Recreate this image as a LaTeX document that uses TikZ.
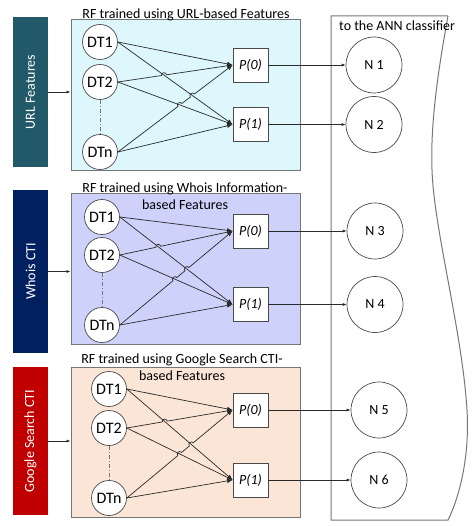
\documentclass[tikz,border=0pt]{standalone}
\usepackage{fontspec}
\usepackage{graphicx}
\setmainfont{Carlito}
\usetikzlibrary{arrows.meta,calc,intersections}

\definecolor{urlc}{HTML}{215968}
\definecolor{whoisc}{HTML}{002060}
\definecolor{googc}{HTML}{C00000}
\definecolor{pan1}{HTML}{DDF7FC}
\definecolor{pan2}{HTML}{CED2FA}
\definecolor{pan3}{HTML}{FBE5D6}
\definecolor{bord}{HTML}{767676}
\definecolor{lin}{HTML}{2A2A2A}
\definecolor{shp}{HTML}{4A4A4A}

\newcommand{\hopr}{2.5pt}

\tikzset{
  srcbox/.style={minimum width=35pt, minimum height=#1, inner sep=0pt, text=white,
    font=\fontsize{14}{17}\selectfont},
  panel/.style={draw=bord, line width=1pt, minimum width=229pt, minimum height=#1, inner sep=0pt},
  ptitle/.style={align=center, inner sep=0pt, font=\fontsize{14}{17}\selectfont},
  dt/.style={circle, draw=shp, line width=0.7pt, fill=white, minimum size=35pt, inner sep=0pt,
    font=\fontsize{16}{18}\selectfont},
  pbox/.style={rectangle, draw=shp, line width=0.7pt, fill=white, minimum width=35pt,
    minimum height=34pt, inner sep=0pt, font=\fontsize{14}{17}\selectfont\itshape},
  nc/.style={circle, draw=shp, line width=0.7pt, fill=white, minimum size=56pt, inner sep=0pt,
    font=\fontsize{14}{17}\selectfont},
  wire/.style={draw=lin, line width=0.7pt, -{Latex[length=5.5pt,width=4.5pt]}},
  feed/.style={draw=lin, line width=0.7pt, -{Latex[length=4pt,width=3pt]}},
  dashdot/.style={draw=bord, line width=0.7pt, dash pattern=on 4pt off 2pt on 1pt off 2pt},
  annbox/.style={draw=bord, line width=1pt},
}

\newcommand{\rfwires}[1]{%
  \path[name path=pa#1] (A#1.east) -- (Q#1.west);
  \path[name path=pb#1] (B#1.east) -- (Q#1.west);
  \path[name path=pc#1] (B#1.east) -- (P#1.west);
  \path[name path=pd#1] (C#1.east) -- (P#1.west);
  \path[name intersections={of=pc#1 and pa#1, by={xa#1}}];
  \path[name intersections={of=pd#1 and pb#1, by={xb#1}}];
  \path[name intersections={of=pd#1 and pa#1, by={xc#1}}];
  \draw[wire] (A#1.east) -- (P#1.west);
  \draw[wire] (A#1.east) -- (Q#1.west);
  \draw[wire] (B#1.east) -- (Q#1.west);
  \draw[wire] (C#1.east) -- (Q#1.west);
  \draw[wire] let \p1=($(P#1.west)-(B#1.east)$), \n1={atan2(\y1,\x1)}, \n2={\n1+180} in
    (B#1.east) -- ($(xa#1)+(\n2:\hopr)$) arc[start angle=\n2, end angle=\n1, radius=\hopr] -- (P#1.west);
  \draw[wire] let \p1=($(P#1.west)-(C#1.east)$), \n1={atan2(\y1,\x1)}, \n2={\n1+180} in
    (C#1.east) -- ($(xb#1)+(\n2:\hopr)$) arc[start angle=\n2, end angle=\n1, radius=\hopr]
    -- ($(xc#1)+(\n2:\hopr)$) arc[start angle=\n2, end angle=\n1, radius=\hopr] -- (P#1.west);
  \draw[dashdot] (B#1.south) -- (C#1.north);
}

\begin{document}
\begin{tikzpicture}[x=1pt,y=1pt]
\useasboundingbox (0,0) rectangle (474,-526);

% ANN classifier shape
\draw[annbox] (448,-16) -- (331,-16) -- (331,-520) -- (448,-520)
  .. controls (458,-500) and (470,-460) .. (467,-410)
  .. controls (462,-330) and (434,-230) .. (432,-170)
  .. controls (430,-120) and (440,-60) .. (448,-16);
\node[anchor=west, inner sep=0pt, font=\fontsize{14}{17}\selectfont] (anntitle) at (339,-26) {to the ANN classifier};

% source boxes
\node[srcbox=150pt, fill=urlc] (s1) at (30.5,-92) {\rotatebox{90}{URL Features}};
\node[srcbox=163pt, fill=whoisc] (s2) at (30.5,-271.5) {\rotatebox{90}{Whois CTI}};
\node[srcbox=148pt, fill=googc] (s3) at (30.5,-441) {\rotatebox{90}{Google Search CTI}};

% panels
\node[panel=151pt, fill=pan1] (pn1) at (185.5,-95.5) {};
\node[panel=150pt, fill=pan2] (pn2) at (185.5,-269) {};
\node[panel=150pt, fill=pan3] (pn3) at (185.5,-442) {};

\node[ptitle] (t1) at (186,-15) {RF trained using URL-based Features};
\node[ptitle] (t2) at (185,-196) {RF trained using Whois Information-\\based Features};
\node[ptitle] (t3) at (182,-367) {RF trained using Google Search CTI-\\based Features};

\draw[feed] (s1.east) -- (s1.east -| pn1.west);
\draw[feed] (s2.east) -- (s2.east -| pn2.west);
\draw[feed] (s3.east) -- (s3.east -| pn3.west);

% panel 1
\node[dt] (A1) at (100,-42) {DT1};
\node[dt] (B1) at (100,-82) {DT2};
\node[dt] (C1) at (100,-152) {DTn};
\node[pbox] (P1) at (250.5,-65) {P(0)};
\node[pbox] (Q1) at (250.5,-124.5) {P(1)};
% panel 2
\node[dt] (A2) at (102,-217) {DT1};
\node[dt] (B2) at (102,-255) {DT2};
\node[dt] (C2) at (102,-325) {DTn};
\node[pbox] (P2) at (250.5,-231) {P(0)};
\node[pbox] (Q2) at (250.5,-304.5) {P(1)};
% panel 3
\node[dt] (A3) at (109,-389) {DT1};
\node[dt] (B3) at (109,-428) {DT2};
\node[dt] (C3) at (109,-498) {DTn};
\node[pbox] (P3) at (250.5,-410) {P(0)};
\node[pbox] (Q3) at (250.5,-480) {P(1)};

\rfwires{1}
\rfwires{2}
\rfwires{3}

% ANN inputs
\node[nc] (N1) at (374,-65) {N 1};
\node[nc] (N2) at (374,-124.5) {N 2};
\node[nc] (N3) at (375,-231) {N 3};
\node[nc] (N4) at (375,-304.5) {N 4};
\node[nc] (N5) at (379,-410) {N 5};
\node[nc] (N6) at (379,-480) {N 6};

\draw[feed] (P1.east) -- (N1.west);
\draw[feed] (Q1.east) -- (N2.west);
\draw[feed] (P2.east) -- (N3.west);
\draw[feed] (Q2.east) -- (N4.west);
\draw[feed] (P3.east) -- (N5.west);
\draw[feed] (Q3.east) -- (N6.west);
\end{tikzpicture}
\end{document}
